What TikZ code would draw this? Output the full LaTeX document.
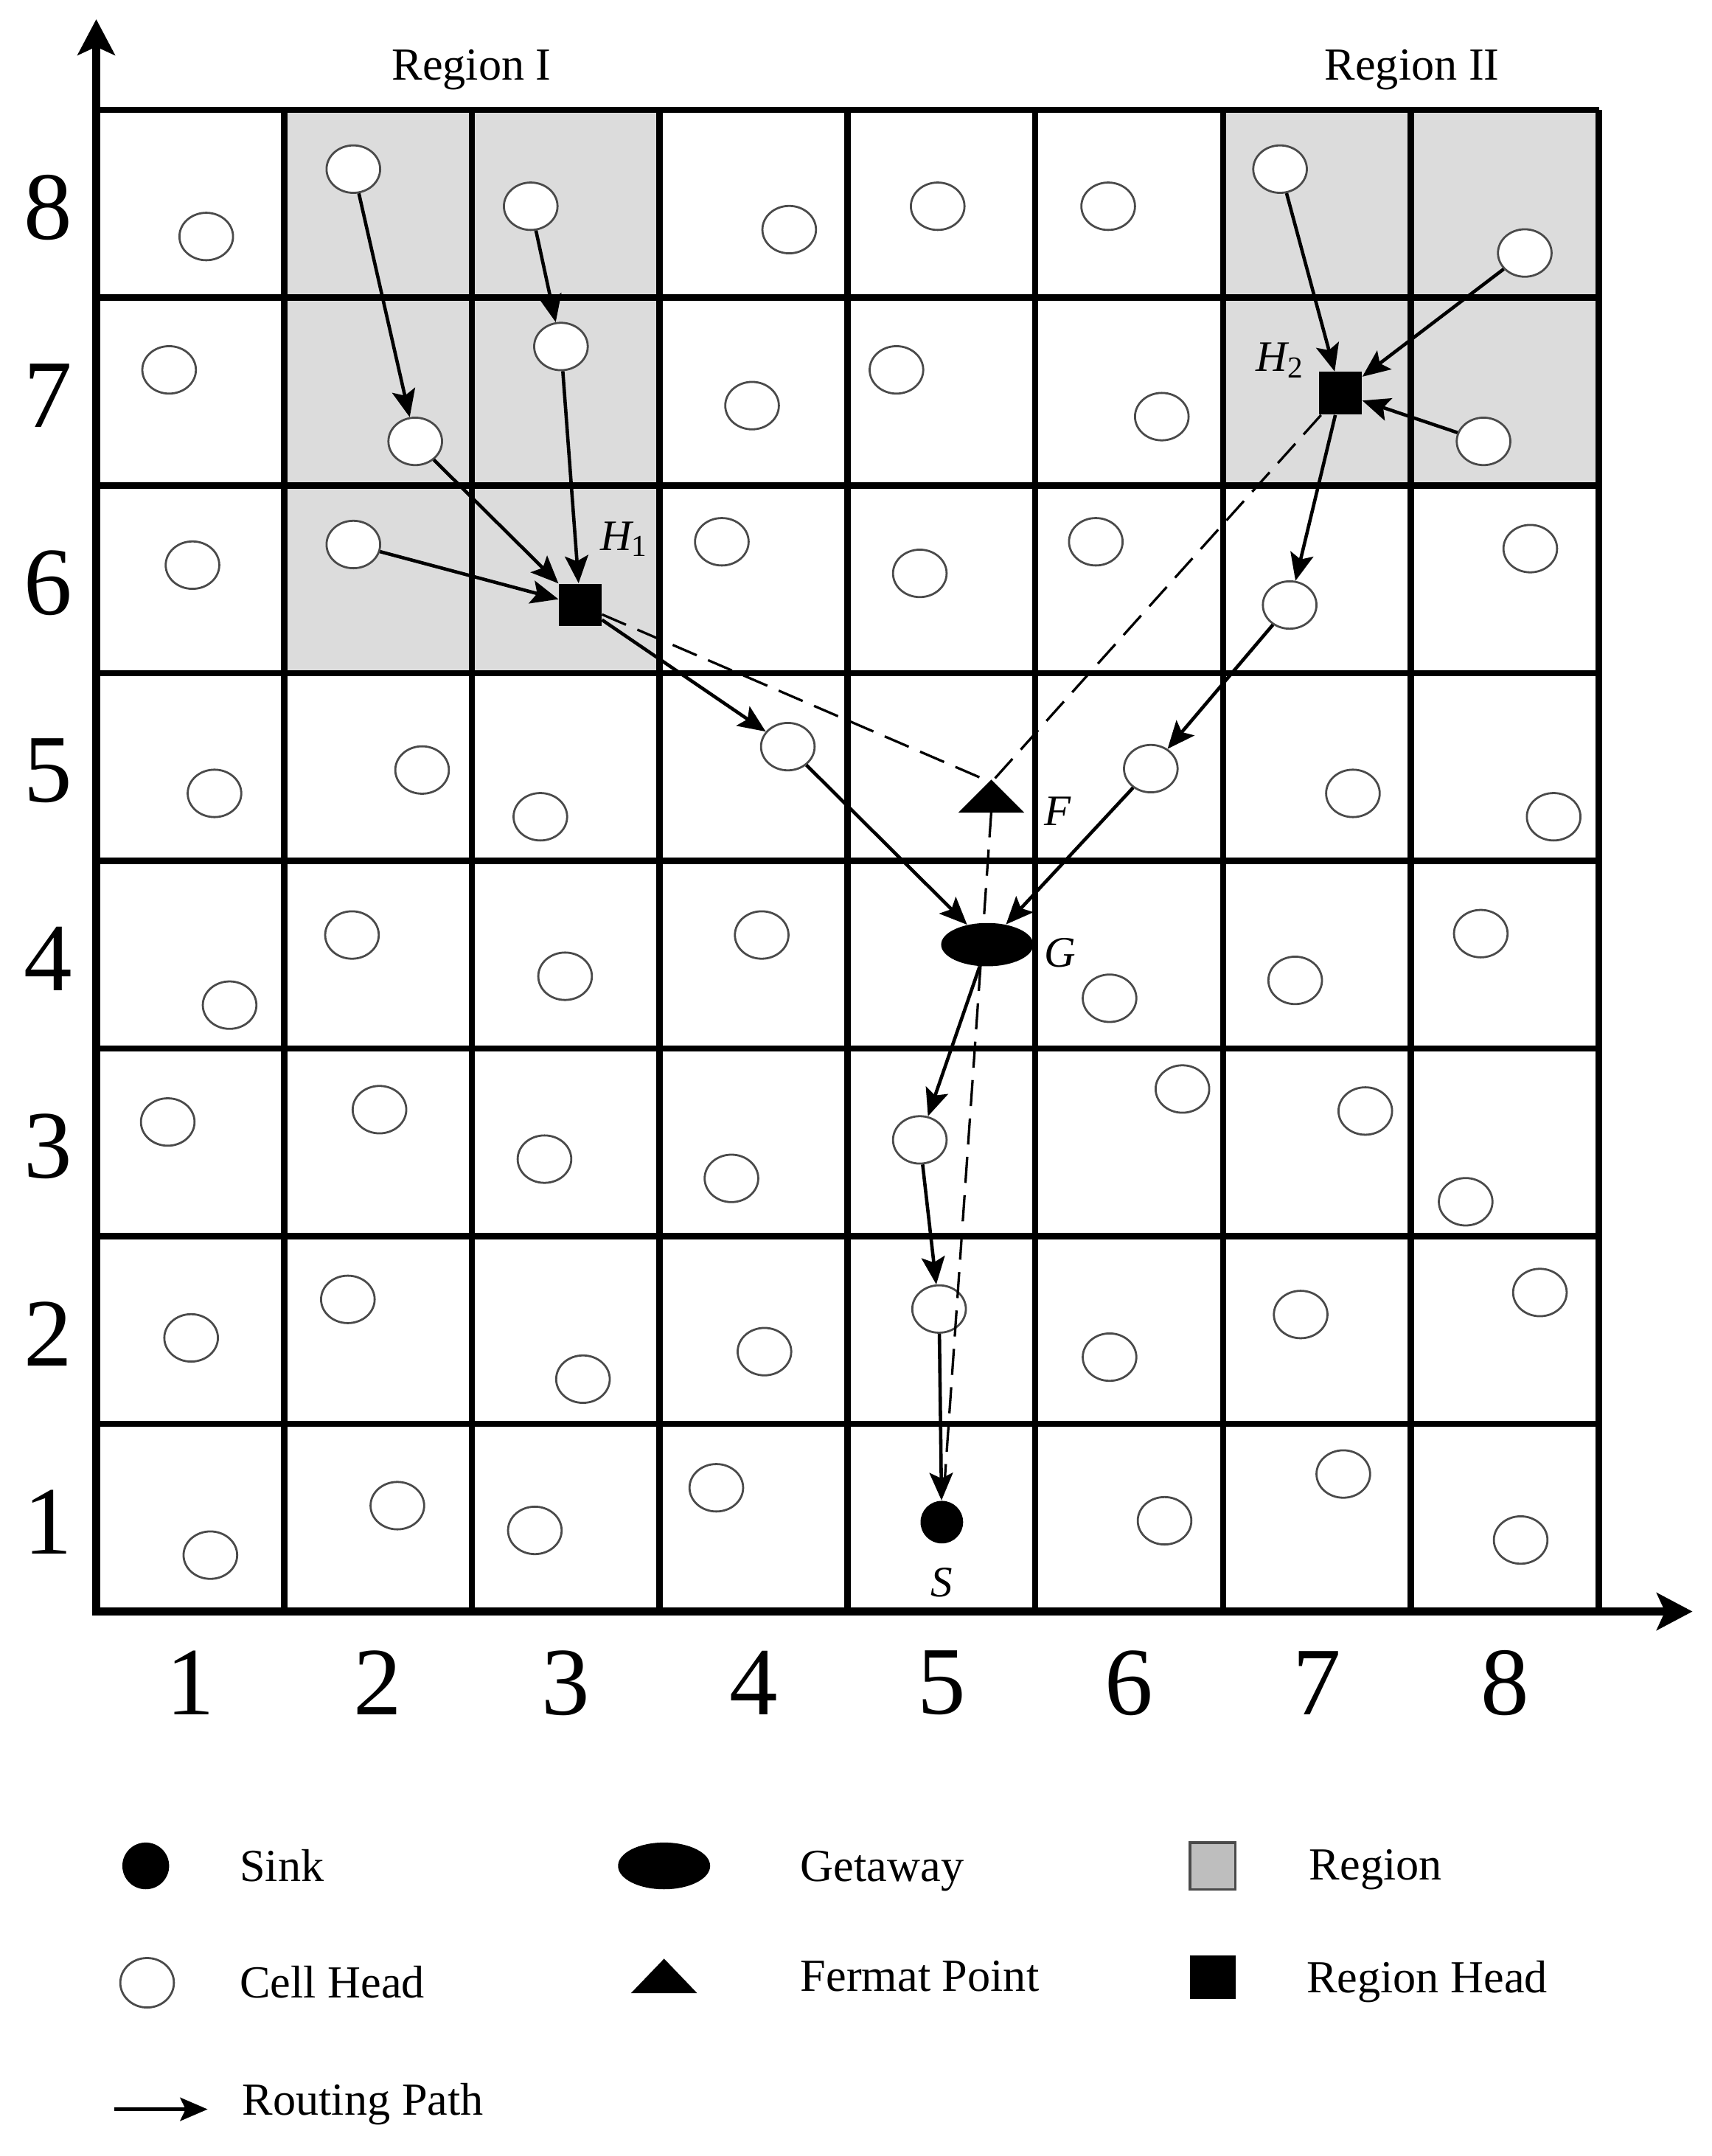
\documentclass[tikz,border=0pt]{standalone}
\usepackage{fontspec}
\setmainfont{Liberation Serif}
\usetikzlibrary{arrows.meta,shapes.geometric}
\definecolor{regiongray}{HTML}{DCDCDC}
\definecolor{legendgray}{HTML}{BEBEBE}
\definecolor{ringgray}{HTML}{4A4A4A}
\begin{document}
\begin{tikzpicture}[x=0.02cm,y=-0.02cm,
 cellhead/.style={ellipse,draw=ringgray,line width=0.85pt,fill=white,minimum width=0.78cm,minimum height=0.69cm,inner sep=0pt},
 rhead/.style={rectangle,fill=black,minimum size=0.62cm,inner sep=0pt},
 sinknode/.style={circle,fill=black,minimum size=0.62cm,inner sep=0pt},
 gwnode/.style={ellipse,fill=black,minimum width=1.34cm,minimum height=0.63cm,inner sep=0pt},
 route/.style={line width=1.4pt,-{Stealth[length=0.4cm,width=0.34cm,inset=0.08cm]}},
 dashline/.style={line width=1pt,dash pattern=on 0.38cm off 0.18cm},
 gridline/.style={line width=2.6pt},
 axisarrow/.style={line width=3.6pt,{Stealth[length=0.52cm,width=0.54cm,inset=0.12cm]}-{Stealth[length=0.52cm,width=0.54cm,inset=0.12cm]}},
 digit/.style={font=\fontsize{40}{44}\selectfont,inner sep=0pt},
 lbl/.style={font=\fontsize{18}{20}\selectfont\itshape,inner sep=0pt},
 legtext/.style={font=\fontsize{19}{22}\selectfont,inner sep=0pt,anchor=base west},
 regtext/.style={font=\fontsize{19}{22}\selectfont,inner sep=0pt}
]
\useasboundingbox (0,0) rectangle (1245,1568);
\fill[white] (0,0) rectangle (1245,1568);
% shaded regions
\fill[regiongray] (206.6,80) rectangle (479.8,489.5);
\fill[regiongray] (889.6,80) rectangle (1163,353);
% grid
\foreach \i in {1,...,8} \draw[gridline] ({70+136.6*\i},80) -- ({70+136.6*\i},1172);
\foreach \j in {0,...,7} \draw[gridline] (70,{80+136.5*\j}) -- (1163,{80+136.5*\j});
% axes
\coordinate (O) at (70,1172);
\coordinate (ytip) at (70,14);
\coordinate (xtip) at (1231,1172);
\draw[axisarrow] (ytip) -- (O) -- (xtip);
% axis digits
\foreach \k in {1,...,8} {
  \node[digit] (xl\k) at ({70+136.6*(\k-0.5)},1224) {\k};
  \node[digit] (yl\k) at (35,{1172-136.5*(\k-0.5)+3}) {\k};
}
% region labels
\node[regtext] (r1lab) at (343,51) {Region I};
\node[regtext] (r2lab) at (1027,51) {Region II};
% row 8
\node[cellhead] (c18) at (150,172) {};
\node[cellhead] (c28) at (257,123) {};
\node[cellhead] (c38) at (386,150) {};
\node[cellhead] (c48) at (574,167) {};
\node[cellhead] (c58) at (682,150) {};
\node[cellhead] (c68) at (806,150) {};
\node[cellhead] (c78) at (931,123) {};
\node[cellhead] (c88) at (1109,184) {};
% row 7
\node[cellhead] (c17) at (123,269) {};
\node[cellhead] (c27) at (302,321) {};
\node[cellhead] (c37) at (408,252) {};
\node[cellhead] (c47) at (547,295) {};
\node[cellhead] (c57) at (652,269) {};
\node[cellhead] (c67) at (845,303) {};
\node[rhead] (H2) at (975,286) {};
\node[cellhead] (c87) at (1079,321) {};
% row 6
\node[cellhead] (c16) at (140,411) {};
\node[cellhead] (c26) at (257,396) {};
\node[rhead] (H1) at (422,440) {};
\node[cellhead] (c46) at (525,394) {};
\node[cellhead] (c56) at (669,417) {};
\node[cellhead] (c66) at (797,394) {};
\node[cellhead] (c76) at (938,440) {};
\node[cellhead] (c86) at (1113,399) {};
% row 5
\node[cellhead] (c15) at (156,577) {};
\node[cellhead] (c25) at (307,560) {};
\node[cellhead] (c35) at (393,594) {};
\node[cellhead] (c45) at (573,543) {};
\coordinate (Ftop) at (721,569);
\coordinate (Fbot) at (721,590);
\node[cellhead] (c65) at (837,559) {};
\node[cellhead] (c75) at (984,577) {};
\node[cellhead] (c85) at (1130,594) {};
% row 4
\node[cellhead] (c14) at (167,731) {};
\node[cellhead] (c24) at (256,680) {};
\node[cellhead] (c34) at (411,710) {};
\node[cellhead] (c44) at (554,680) {};
\node[gwnode] (G) at (718,687) {};
\node[cellhead] (c64) at (807,726) {};
\node[cellhead] (c74) at (942,713) {};
\node[cellhead] (c84) at (1077,679) {};
% row 3
\node[cellhead] (c13) at (122,816) {};
\node[cellhead] (c23) at (276,807) {};
\node[cellhead] (c33) at (396,843) {};
\node[cellhead] (c43) at (532,857) {};
\node[cellhead] (c53) at (669,829) {};
\node[cellhead] (c63) at (860,792) {};
\node[cellhead] (c73) at (993,808) {};
\node[cellhead] (c83) at (1066,874) {};
% row 2
\node[cellhead] (c12) at (139,973) {};
\node[cellhead] (c22) at (253,945) {};
\node[cellhead] (c32) at (424,1003) {};
\node[cellhead] (c42) at (556,983) {};
\node[cellhead] (c52) at (683,952) {};
\node[cellhead] (c62) at (807,987) {};
\node[cellhead] (c72) at (946,956) {};
\node[cellhead] (c82) at (1120,940) {};
% row 1
\node[cellhead] (c11) at (153,1131) {};
\node[cellhead] (c21) at (289,1095) {};
\node[cellhead] (c31) at (389,1113) {};
\node[cellhead] (c41) at (521,1082) {};
\node[sinknode] (S) at (685,1107) {};
\node[cellhead] (c61) at (847,1106) {};
\node[cellhead] (c71) at (977,1072) {};
\node[cellhead] (c81) at (1106,1120) {};
% dashed lines
\draw[dashline] (H1) -- (Ftop);
\draw[dashline] (H2) -- (Ftop);
\draw[dashline] (Fbot) -- (S);
% Fermat point triangle
\fill (721,567) -- (745,591) -- (697,591) -- cycle;
% routing paths
\draw[route] (c28) -- (c27);
\draw[route] (c38) -- (c37);
\draw[route] (c37) -- (H1);
\draw[route] (c27) -- (H1);
\draw[route] (c26) -- (H1);
\draw[route] (H1) -- (c45);
\draw[route] (c45) -- (G);
\draw[route] (c78) -- (H2);
\draw[route] (c88) -- (H2);
\draw[route] (c87) -- (H2);
\draw[route] (H2) -- (c76);
\draw[route] (c76) -- (c65);
\draw[route] (c65) -- (G);
\draw[route] (G) -- (c53);
\draw[route] (c53) -- (c52);
\draw[route] (c52) -- (S);
% labels
\node[lbl] (h1l) at (454,392) {H\textsubscript{\upshape 1}};
\node[lbl] (h2l) at (931,262) {H\textsubscript{\upshape 2}};
\node[lbl] (fl) at (769,590) {F};
\node[lbl] (gl) at (771,693) {G};
\node[lbl] (sl) at (685,1151) {S};
% legend
\node[sinknode,minimum size=0.68cm] (lsink) at (106,1357) {};
\node[legtext] (tsink) at (174,1368) {Sink};
\node[gwnode,minimum height=0.68cm] (lgw) at (483,1357) {};
\node[legtext] (tgw) at (582,1368) {Getaway};
\node[rectangle,fill=legendgray,draw=ringgray,line width=1pt,minimum width=0.66cm,minimum height=0.68cm,inner sep=0pt] (lreg) at (882,1357) {};
\node[legtext] (treg) at (952,1367) {Region};
\node[cellhead,minimum height=0.72cm] (lch) at (107,1442) {};
\node[legtext] (tch) at (174,1453) {Cell Head};
\fill (483,1424.5) -- (507,1449.5) -- (459,1449.5) -- cycle;
\node[legtext] (tfp) at (582,1448) {Fermat Point};
\node[rhead,minimum width=0.66cm,minimum height=0.64cm] (lrh) at (882,1438) {};
\node[legtext] (trh) at (950,1449) {Region Head};
\coordinate (ra) at (83,1534);
\coordinate (rb) at (151,1534);
\draw[route] (ra) -- (rb);
\node[legtext] (trp) at (176,1538) {Routing Path};
\end{tikzpicture}
\end{document}
